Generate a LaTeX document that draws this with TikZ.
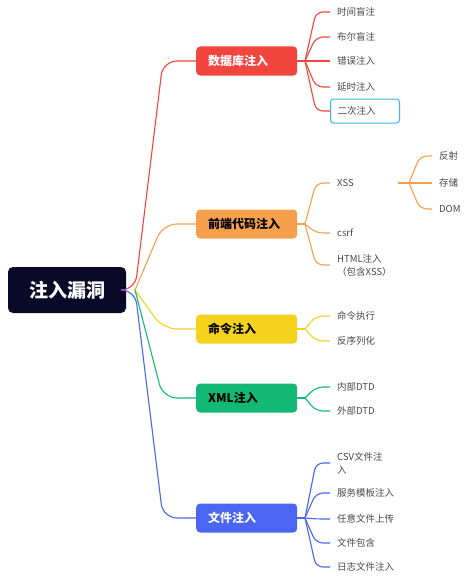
\documentclass[tikz,border=0pt]{standalone}
\usepackage{fontspec}
\setmainfont{Noto Sans CJK SC}
\definecolor{rootc}{HTML}{0A0A28}
\definecolor{dbc}{HTML}{F2453D}
\definecolor{fec}{HTML}{F5A04C}
\definecolor{cmdc}{HTML}{F4D21E}
\definecolor{xmlc}{HTML}{14B875}
\definecolor{filec}{HTML}{4A66F2}
\definecolor{boxc}{HTML}{3AB4EE}

\begin{document}
\begin{tikzpicture}[x=1pt, y=-1pt,
    topic/.style={rounded corners=4pt, anchor=west, minimum height=29pt, text width=77pt,
        inner xsep=12pt, align=left, font=\fontsize{12}{14}\selectfont\bfseries},
    leaf/.style={anchor=west, inner xsep=7pt, inner ysep=2pt, align=left, text=black!72,
        font=\fontsize{9.5}{13}\selectfont},
    link/.style={line width=1.1pt, rounded corners=7pt},
    trunk/.style={line width=1.1pt, rounded corners=14pt}]
    \useasboundingbox (0,0) rectangle (474,578);

    \node[fill=rootc, text=white, rounded corners=5pt, minimum width=118pt, minimum height=46pt,
        font=\fontsize{19}{22}\selectfont\bfseries] (root) at (67,290) {注入漏洞};
    \coordinate (hub) at (135,290);

    \node[topic, fill=dbc, text=white] (db) at (196,61) {数据库注入};
    \node[topic, fill=fec] (fe) at (196,224) {前端代码注入};
    \node[topic, fill=cmdc] (cmd) at (196,329) {命令注入};
    \node[topic, fill=xmlc] (xml) at (196,398) {XML注入};
    \node[topic, fill=filec, text=white] (file) at (196,518) {文件注入};

    \node[leaf] (db1) at (330,12) {时间盲注};
    \node[leaf] (db2) at (330,37) {布尔盲注};
    \node[leaf] (db3) at (330,61) {错误注入};
    \node[leaf] (db4) at (330,87) {延时注入};
    \node[leaf, draw=boxc, line width=1pt, rounded corners=3pt, minimum height=24pt,
        text width=55pt] (db5) at (330,111) {二次注入};

    \node[leaf, text width=54pt] (fe1) at (330,183) {XSS};
    \node[leaf] (fe2) at (330,233) {csrf};
    \node[leaf] (fe3) at (330,265) {HTML注入\\（包含XSS）};
    \coordinate (xh) at (409,183);
    \node[leaf] (xs1) at (432,156) {反射};
    \node[leaf] (xs2) at (432,183) {存储};
    \node[leaf] (xs3) at (432,209) {DOM};

    \node[leaf] (cmd1) at (330,316) {命令执行};
    \node[leaf] (cmd2) at (330,341) {反序列化};

    \node[leaf] (xml1) at (330,387) {内部DTD};
    \node[leaf] (xml2) at (330,411) {外部DTD};

    \node[leaf] (file1) at (330,463) {CSV文件注\\入};
    \node[leaf] (file2) at (330,493) {服务模板注入};
    \node[leaf] (file3) at (330,519) {任意文件上传};
    \node[leaf] (file4) at (330,543) {文件包含};
    \node[leaf] (file5) at (330,567) {日志文件注入};

    \coordinate (dbh) at (305,61);
    \coordinate (feh) at (305,224);
    \coordinate (cmdh) at (305,329);
    \coordinate (xmlh) at (305,398);
    \coordinate (fileh) at (305,518);

    \draw[trunk, dbc] (root.east) -- (hub) -- (163,0 |- db.west) -- (db.west);
    \draw[trunk, fec] (hub) -- (163,0 |- fe.west) -- (fe.west);
    \draw[trunk, cmdc] (hub) -- (163,0 |- cmd.west) -- (cmd.west);
    \draw[trunk, xmlc] (hub) -- (163,0 |- xml.west) -- (xml.west);
    \draw[trunk, filec] (root.east) -- (hub) -- (163,0 |- file.west) -- (file.west);

    \draw[link, dbc] (db.east) -- (dbh);
    \foreach \n in {db1,db2,db3,db4,db5}
        \draw[link, dbc] (dbh) -- (316,0 |- \n.west) -- (\n.west);
    \draw[link, fec] (fe.east) -- (feh);
    \foreach \n in {fe1,fe2,fe3}
        \draw[link, fec] (feh) -- (316,0 |- \n.west) -- (\n.west);
    \draw[link, fec] (fe1.east) -- (xh);
    \foreach \n in {xs1,xs2,xs3}
        \draw[link, fec] (xh) -- (420,0 |- \n.west) -- (\n.west);
    \draw[link, cmdc] (cmd.east) -- (cmdh);
    \foreach \n in {cmd1,cmd2}
        \draw[link, cmdc] (cmdh) -- (316,0 |- \n.west) -- (\n.west);
    \draw[link, xmlc] (xml.east) -- (xmlh);
    \foreach \n in {xml1,xml2}
        \draw[link, xmlc] (xmlh) -- (316,0 |- \n.west) -- (\n.west);
    \draw[link, filec] (file.east) -- (fileh);
    \foreach \n in {file1,file2,file3,file4,file5}
        \draw[link, filec] (fileh) -- (316,0 |- \n.west) -- (\n.west);
\end{tikzpicture}
\end{document}
